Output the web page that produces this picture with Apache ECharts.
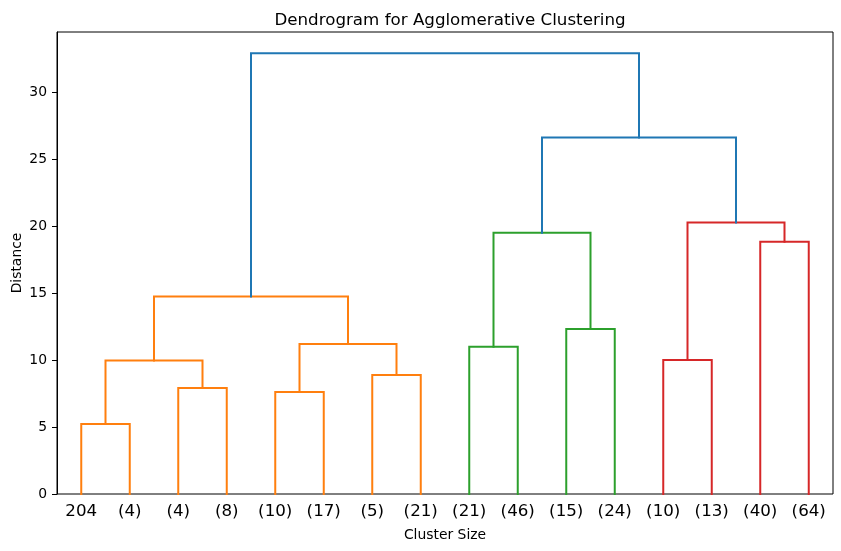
<!DOCTYPE html>
<html>
<head>
<meta charset="utf-8">
<script src="https://cdn.jsdelivr.net/npm/echarts@6/dist/echarts.min.js"></script>
<style>html,body{margin:0;padding:0;background:#fff}#c{width:841px;height:551px}</style>
</head>
<body>
<div id="c"></div>
<script>
// Leaf labels (cluster sizes), left to right
const leafLabels = ['204','(4)','(4)','(8)','(10)','(17)','(5)','(21)','(21)','(46)','(15)','(24)','(10)','(13)','(40)','(64)'];
// Merges: node ids 0-15 are leaves, merge k creates node 16+k
const mergeLeft   = [0, 2, 4, 6, 16, 18, 20, 8, 10, 23, 12, 14, 26, 25, 22];
const mergeRight  = [1, 3, 5, 7, 17, 19, 21, 9, 11, 24, 13, 15, 27, 28, 29];
const mergeHeight = [5.23, 7.92, 7.62, 8.89, 9.96, 11.21, 14.75, 10.99, 12.33, 19.51, 10.01, 18.83, 20.28, 26.63, 32.91];
const mergeGroup  = ['C1','C1','C1','C1','C1','C1','C1','C2','C2','C2','C3','C3','C3','C0','C0'];
const yTicks = [0, 5, 10, 15, 20, 25, 30];

const palette = {C0:'#1f77b4', C1:'#ff7f0e', C2:'#2ca02c', C3:'#d62728'};
const nodeX = [], nodeH = [];
leafLabels.forEach((_, i) => { nodeX.push(5 + 10 * i); nodeH.push(0); });
const series = [];
mergeHeight.forEach((h, k) => {
  const l = mergeLeft[k], r = mergeRight[k];
  series.push({
    type: 'line', xAxisIndex: 0, yAxisIndex: 0,
    data: [[nodeX[l], nodeH[l]], [nodeX[l], h], [nodeX[r], h], [nodeX[r], nodeH[r]]],
    showSymbol: false, symbol: 'none', silent: true,
    lineStyle: {color: palette[mergeGroup[k]], width: 2, cap: 'square', join: 'miter'},
    z: 3
  });
  nodeX.push((nodeX[l] + nodeX[r]) / 2);
  nodeH.push(h);
});

const font = 'DejaVu Sans';
const chart = echarts.init(document.getElementById('c'), null, {renderer: 'canvas'});
chart.setOption({
  animation: false,
  backgroundColor: '#fff',
  textStyle: {fontFamily: font},
  title: {
    text: 'Dendrogram for Agglomerative Clustering',
    left: 445, top: 7, textAlign: 'center',
    textStyle: {fontFamily: font, fontSize: 16.7, fontWeight: 'normal', color: '#000'}
  },
  grid: {left: 57, right: 8, top: 32, bottom: 57, show: true, borderColor: '#000', borderWidth: 1,
         backgroundColor: 'transparent', containLabel: false, outerBoundsMode: 'none'},
  xAxis: [
    {
      type: 'value', min: 0, max: leafLabels.length * 10, show: true,
      axisLine: {show: false}, axisTick: {show: false}, axisLabel: {show: false}, splitLine: {show: false},
      name: 'Cluster Size', nameLocation: 'middle', nameGap: 34, nameMoveOverlap: false,
      nameTextStyle: {fontFamily: font, fontSize: 13.9, color: '#000'}
    },
    {
      type: 'category', data: leafLabels, boundaryGap: true, position: 'bottom',
      axisLine: {show: false}, axisTick: {show: false}, splitLine: {show: false},
      axisLabel: {fontFamily: font, fontSize: 16.7, color: '#000', margin: 9, interval: 0}
    }
  ],
  yAxis: {
    type: 'value', min: 0, max: 34.5,
    axisLine: {show: true, lineStyle: {color: '#000', width: 1}},
    axisTick: {show: true, length: 5, lineStyle: {color: '#000'}, customValues: yTicks},
    axisLabel: {fontFamily: font, fontSize: 13.9, color: '#000', margin: 10, customValues: yTicks},
    splitLine: {show: false},
    name: 'Distance', nameLocation: 'middle', nameGap: 33, nameMoveOverlap: false,
    nameTextStyle: {fontFamily: font, fontSize: 13.9, color: '#000'}
  },
  series: series
});
</script>
</body>
</html>
